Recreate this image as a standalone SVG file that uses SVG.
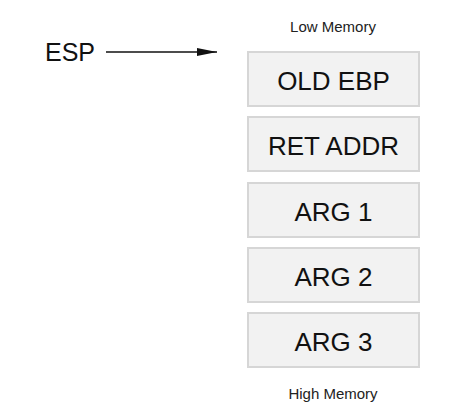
<svg xmlns="http://www.w3.org/2000/svg" width="474" height="420" viewBox="0 0 474 420">
<style>
.box{fill:#f2f2f2;stroke:#d6d6d6;stroke-width:2}
.bt{font-family:"Liberation Sans",Arial,sans-serif;font-size:26px;fill:#111;text-anchor:middle}
.lbl{font-family:"Liberation Sans",Arial,sans-serif;font-size:15px;fill:#222;text-anchor:middle}
</style>
<defs>
<marker id="ah" markerWidth="20" markerHeight="8" refX="20" refY="4" orient="auto" markerUnits="userSpaceOnUse">
<path d="M0,0 L20,4 L0,8 Z" fill="#111"/>
</marker>
</defs>
<rect width="474" height="420" fill="#fff"/>
<text class="lbl" x="333" y="32">Low Memory</text>
<text class="lbl" x="333" y="399">High Memory</text>
<g id="esp">
<text x="45" y="61" font-family="Liberation Sans,Arial,sans-serif" font-size="25" fill="#111">ESP</text>
</g>
<g id="n1"><rect class="box" x="248" y="52" width="171" height="54"/><text class="bt" x="333.5" y="89.5">OLD EBP</text></g>
<g id="n2"><rect class="box" x="248" y="117" width="171" height="54"/><text class="bt" x="333.5" y="154.5">RET ADDR</text></g>
<g id="n3"><rect class="box" x="248" y="183" width="171" height="54"/><text class="bt" x="333.5" y="220.5">ARG 1</text></g>
<g id="n4"><rect class="box" x="248" y="248" width="171" height="54"/><text class="bt" x="333.5" y="285.5">ARG 2</text></g>
<g id="n5"><rect class="box" x="248" y="313" width="171" height="54"/><text class="bt" x="333.5" y="350.5">ARG 3</text></g>
<g id="connectors">
<line x1="106" y1="52" x2="217" y2="52" stroke="#111" stroke-width="1.6" marker-end="url(#ah)"/>
</g>
</svg>
